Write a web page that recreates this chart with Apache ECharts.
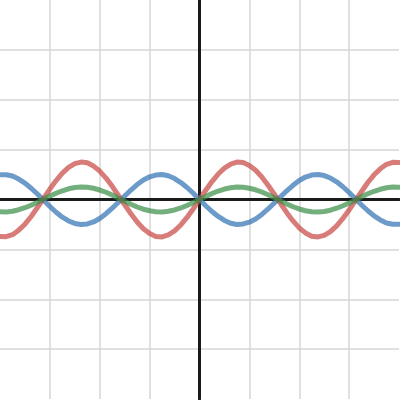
<!DOCTYPE html>
<html>
<head>
    <meta charset="utf-8">
    <title>sine curves</title>
    <script src="https://cdn.jsdelivr.net/npm/echarts@6/dist/echarts.min.js"></script>
    <style>
        html, body { margin: 0; padding: 0; background: #fff; }
        #main { width: 400px; height: 400px; }
    </style>
</head>
<body>
<div id="main"></div>

<script type="text/javascript">
    var xs = [-8, -7.75, -7.5, -7.25, -7, -6.75, -6.5, -6.25, -6, -5.75, -5.5, -5.25, -5, -4.75, -4.5, -4.25,
              -4, -3.75, -3.5, -3.25, -3, -2.75, -2.5, -2.25, -2, -1.75, -1.5, -1.25, -1, -0.75, -0.5, -0.25,
              0,
              0.25, 0.5, 0.75, 1, 1.25, 1.5, 1.75, 2, 2.25, 2.5, 2.75, 3, 3.25, 3.5, 3.75, 4,
              4.25, 4.5, 4.75, 5, 5.25, 5.5, 5.75, 6, 6.25, 6.5, 6.75, 7, 7.25, 7.5, 7.75, 8];

    // red curve (largest one)
    var redY = [-1.48, -1.49, -1.41, -1.23, -0.99, -0.68, -0.32, 0.05, 0.42, 0.76, 1.06, 1.29, 1.44, 1.50, 1.47, 1.34,
                1.14, 0.86, 0.53, 0.16, -0.21, -0.57, -0.90, -1.17, -1.36, -1.48, -1.50, -1.42, -1.26, -1.02, -0.72, -0.37,
                0,
                0.37, 0.72, 1.02, 1.26, 1.42, 1.50, 1.48, 1.36, 1.17, 0.90, 0.57, 0.21, -0.16, -0.53, -0.86, -1.14,
                -1.34, -1.47, -1.50, -1.44, -1.29, -1.06, -0.76, -0.42, -0.05, 0.32, 0.68, 0.99, 1.23, 1.41, 1.49, 1.48];

    // blue curve (opposite phase)
    var blueY = [0.99, 0.99, 0.94, 0.82, 0.66, 0.45, 0.22, -0.03, -0.28, -0.51, -0.71, -0.86, -0.96, -1.00, -0.98, -0.90,
                 -0.76, -0.57, -0.35, -0.11, 0.14, 0.38, 0.60, 0.78, 0.91, 0.98, 1.00, 0.95, 0.84, 0.68, 0.48, 0.25,
                 0,
                 -0.25, -0.48, -0.68, -0.84, -0.95, -1.00, -0.98, -0.91, -0.78, -0.60, -0.38, -0.14, 0.11, 0.35, 0.57, 0.76,
                 0.90, 0.98, 1.00, 0.96, 0.86, 0.71, 0.51, 0.28, 0.03, -0.22, -0.45, -0.66, -0.82, -0.94, -0.99, -0.99];

    // green curve (smallest one)
    var greenY = [-0.49, -0.50, -0.47, -0.41, -0.33, -0.23, -0.11, 0.02, 0.14, 0.25, 0.35, 0.43, 0.48, 0.50, 0.49, 0.45,
                  0.38, 0.29, 0.18, 0.05, -0.07, -0.19, -0.30, -0.39, -0.45, -0.49, -0.50, -0.47, -0.42, -0.34, -0.24, -0.12,
                  0,
                  0.12, 0.24, 0.34, 0.42, 0.47, 0.50, 0.49, 0.45, 0.39, 0.30, 0.19, 0.07, -0.05, -0.18, -0.29, -0.38,
                  -0.45, -0.49, -0.50, -0.48, -0.43, -0.35, -0.25, -0.14, -0.02, 0.11, 0.23, 0.33, 0.41, 0.47, 0.50, 0.49];

    function pairs(ys) {
        return xs.map(function (x, i) { return [x, ys[i]]; });
    }

    var axisCommon = {
        type: 'value',
        min: -8,
        max: 8,
        interval: 2,
        axisLabel: { show: false },
        axisTick: { show: false },
        axisLine: { show: true, onZero: true, lineStyle: { color: '#1a1a1a', width: 3 } },
        splitLine: {
            show: true,
            showMinLine: false,
            showMaxLine: false,
            lineStyle: { color: '#d6d6d6', width: 1.5 }
        }
    };

    function curve(name, ys, color) {
        return {
            name: name,
            type: 'line',
            data: pairs(ys),
            smooth: false,
            showSymbol: false,
            lineStyle: { color: color, width: 5, opacity: 0.7, cap: 'round', join: 'round' }
        };
    }

    var myChart = echarts.init(document.getElementById('main'));
    myChart.setOption({
        animation: false,
        grid: { left: -1, right: 1, top: -1, bottom: 1 },
        xAxis: axisCommon,
        yAxis: axisCommon,
        series: [
            curve('blue', blueY, '#2d70b3'),
            curve('red', redY, '#c74440'),
            curve('green', greenY, '#388c46')
        ]
    });
</script>
</body>
</html>
